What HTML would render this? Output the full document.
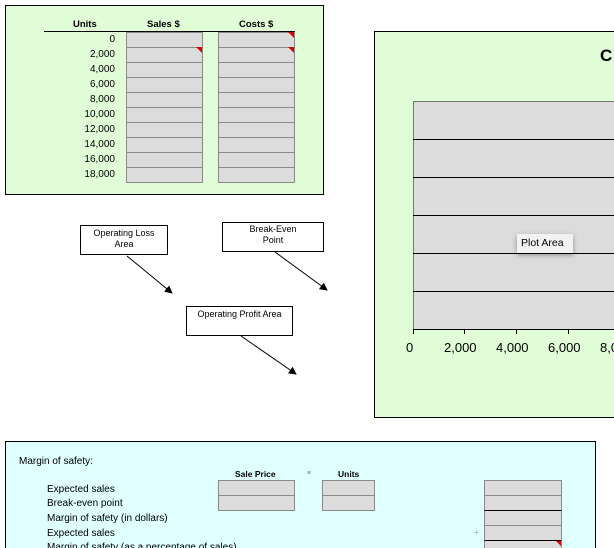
<!DOCTYPE html>
<html style="width:614px;height:548px;overflow:hidden"><head><style>
*{margin:0;padding:0;box-sizing:border-box}
body{width:614px;height:548px;background:#fff;position:relative;overflow:hidden;font-family:"Liberation Sans",Arial,sans-serif;color:#000}
.a{position:absolute}
.c{position:absolute;background:#dcdcdc;border:1px solid #8a8a8a}
.t{position:absolute;font-size:10px;white-space:nowrap}
.b{font-weight:bold}
.r{text-align:right;width:60px}
.tri{position:absolute;width:0;height:0;border-top:6px solid #d00;border-left:6px solid transparent}
</style></head><body>
<!-- top-left panel -->
<div class="a" style="left:5px;top:5px;width:319px;height:190px;background:#e0fdd8;border:1px solid #000"></div>
<div class="t b" style="left:73px;top:19px;font-size:9.5px">Units</div>
<div class="t b" style="left:147px;top:19px;font-size:9.5px">Sales $</div>
<div class="t b" style="left:239px;top:19px;font-size:9.5px">Costs $</div>
<div class="a" style="left:44px;top:31px;width:251px;height:1px;background:#000"></div>
<div id="rows"></div>
<div class="tri" style="left:196px;top:47px"></div>
<div class="tri" style="left:288px;top:32px"></div>
<div class="tri" style="left:288px;top:47px"></div>

<!-- chart panel -->
<div class="a" style="left:374px;top:31px;width:250px;height:387px;background:#e0fdd8;border:1px solid #000"></div>
<div class="t b" style="left:600px;top:46px;font-size:17px">C</div>
<div class="a" style="left:413px;top:101px;width:210px;height:228px;background:#dcdcdc;border-left:1px solid #777;border-top:1px solid #777"></div>
<div class="a" style="left:413px;top:139px;width:210px;height:1px;background:#000"></div>
<div class="a" style="left:413px;top:177px;width:210px;height:1px;background:#000"></div>
<div class="a" style="left:413px;top:215px;width:210px;height:1px;background:#000"></div>
<div class="a" style="left:413px;top:253px;width:210px;height:1px;background:#000"></div>
<div class="a" style="left:413px;top:291px;width:210px;height:1px;background:#000"></div>
<div class="a" style="left:413px;top:329px;width:210px;height:1px;background:#000"></div>
<div class="a" style="left:413px;top:329px;width:1px;height:5px;background:#000"></div>
<div class="a" style="left:464px;top:329px;width:1px;height:5px;background:#000"></div>
<div class="a" style="left:516px;top:329px;width:1px;height:5px;background:#000"></div>
<div class="a" style="left:568px;top:329px;width:1px;height:5px;background:#000"></div>
<div class="t" style="left:406px;top:340px;font-size:13px">0</div>
<div class="t" style="left:444px;top:340px;font-size:13px">2,000</div>
<div class="t" style="left:496px;top:340px;font-size:13px">4,000</div>
<div class="t" style="left:548px;top:340px;font-size:13px">6,000</div>
<div class="t" style="left:600px;top:340px;font-size:13px">8,0</div>
<div class="a" style="left:517px;top:234px;width:56px;height:19px;background:#f2f2f2;box-shadow:0 2px 5px rgba(0,0,0,.35);font-size:10.5px;padding:3px 4px">Plot Area</div>

<!-- callouts -->
<div class="a" style="left:80px;top:225px;width:88px;height:30px;border:1px solid #000;background:#fff;font-size:9px;text-align:center;line-height:11px;padding-top:2px">Operating Loss<br>Area</div>
<div class="a" style="left:222px;top:222px;width:102px;height:30px;border:1px solid #000;background:#fff;font-size:9px;text-align:center;line-height:11px;padding-top:1px">Break-Even<br>Point</div>
<div class="a" style="left:186px;top:306px;width:107px;height:30px;border:1px solid #000;background:#fff;font-size:9px;text-align:center;line-height:11px;padding-top:2px">Operating Profit Area</div>
<svg class="a" style="left:0;top:0" width="614" height="548">
<defs><marker id="m" markerWidth="8" markerHeight="8" refX="7" refY="4" orient="auto" markerUnits="userSpaceOnUse"><path d="M0,0 L8,4 L0,8z" fill="#000"/></marker></defs>
<line x1="127" y1="256" x2="172" y2="293" stroke="#000" stroke-width="1" marker-end="url(#m)"/>
<line x1="275" y1="252" x2="327" y2="290" stroke="#000" stroke-width="1" marker-end="url(#m)"/>
<line x1="241" y1="336" x2="296" y2="374" stroke="#000" stroke-width="1" marker-end="url(#m)"/>
</svg>

<!-- bottom panel -->
<div class="a" style="left:5px;top:441px;width:591px;height:120px;background:#e0ffff;border:1px solid #000"></div>
<div class="t" style="left:19px;top:456px">Margin of safety:</div>
<div class="t b" style="left:235px;top:469px;font-size:8.5px">Sale Price</div>
<div class="t" style="left:307px;top:470px;font-size:7px;color:#555">×</div>
<div class="t b" style="left:338px;top:469px;font-size:8.5px">Units</div>
<div class="t" style="left:47px;top:484px">Expected sales</div>
<div class="t" style="left:47px;top:498px">Break-even point</div>
<div class="t" style="left:47px;top:513px">Margin of safety (in dollars)</div>
<div class="t" style="left:47px;top:528px">Expected sales</div>
<div class="t" style="left:47px;top:542px">Margin of safety (as a percentage of sales)</div>
<div class="c" style="left:218px;top:480px;width:77px;height:16px"></div>
<div class="c" style="left:218px;top:495px;width:77px;height:16px"></div>
<div class="c" style="left:322px;top:480px;width:53px;height:16px"></div>
<div class="c" style="left:322px;top:495px;width:53px;height:16px"></div>
<div class="c" style="left:484px;top:480px;width:78px;height:16px"></div>
<div class="c" style="left:484px;top:495px;width:78px;height:16px"></div>
<div class="c" style="left:484px;top:510px;width:78px;height:16px;border-top:1px solid #000"></div>
<div class="c" style="left:484px;top:525px;width:78px;height:16px"></div>
<div class="c" style="left:484px;top:540px;width:78px;height:16px;border-top:1px solid #000"></div>
<div class="tri" style="left:556px;top:541px;border-top-width:5px;border-left-width:5px"></div>
<div class="t" style="left:474px;top:528px;font-size:8px;color:#8ab">+</div>
<script>
var h='',u=['0','2,000','4,000','6,000','8,000','10,000','12,000','14,000','16,000','18,000'];
for(var i=0;i<10;i++){var y=32+i*15;
h+='<div class="t r" style="left:55px;top:'+(y+2)+'px">'+u[i]+'</div>';
h+='<div class="c" style="left:126px;top:'+y+'px;width:77px;height:16px"></div>';
h+='<div class="c" style="left:218px;top:'+y+'px;width:77px;height:16px"></div>';}
document.getElementById('rows').innerHTML=h;
</script>
</body></html>
